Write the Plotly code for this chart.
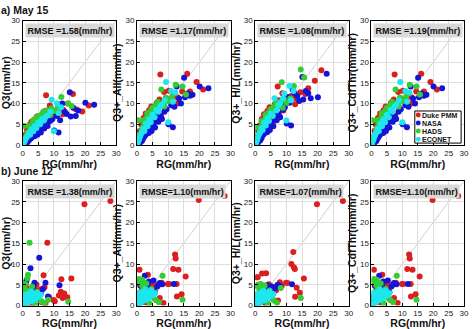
import plotly.graph_objects as go

# ---------------- data ----------------
series_names = ["Duke PMM", "NASA", "HADS", "ECONET"]
series_colors = ["#dc1e1e", "#1414d8", "#33cc33", "#1ee6ee"]

# May 15 : gauge rain rate (RG) and radar estimates
may_rg_duke = [0.1, 0.3, 0.5, 0.7, 0.9, 1.2, 1.4, 1.7, 2.1, 2.4, 2.8, 3.1, 3.5, 3.9, 4.2, 4.6, 5.0, 5.4, 5.9, 6.3,
               6.8, 7.2, 7.5, 8.1, 8.7, 9.3, 10.2, 11.4, 11.7, 12.8, 13.0, 14.5, 16.1, 17.0, 19.1, 21.2,
               2.0, 3.4, 4.8, 6.1, 7.7, 9.0]
may_q3_duke = [0.3, 0.2, 1.5, 0.8, 2.5, 1.9, 3.6, 2.2, 4.8, 3.1, 5.6, 4.0, 4.3, 6.2, 5.1, 6.9, 5.8, 4.9, 6.6, 7.5,
               6.0, 8.2, 12.0, 7.1, 9.5, 8.4, 7.2, 9.8, 8.9, 7.4, 8.5, 10.0, 12.3, 8.6, 8.1, 9.5,
               1.2, 2.6, 3.9, 4.4, 5.2, 6.3]
may_all_duke = [0.4, 0.3, 2.0, 1.1, 3.4, 2.6, 4.9, 3.0, 6.5, 4.2, 7.6, 5.4, 5.8, 8.4, 6.9, 9.3, 7.8, 6.6, 8.9, 10.1,
                8.1, 11.0, 17.0, 9.6, 12.8, 11.3, 13.1, 11.3, 12.0, 10.0, 11.5, 12.9, 17.2, 12.9, 15.2, 13.4,
                1.6, 3.5, 5.3, 5.9, 7.0, 8.5]
may_hl_duke = [0.4, 0.3, 2.0, 1.1, 3.3, 2.6, 4.7, 3.0, 6.3, 4.1, 7.4, 5.3, 5.7, 8.2, 6.7, 9.1, 7.6, 6.5, 8.7, 9.9,
               7.9, 14.1, 10.8, 9.4, 12.5, 11.1, 10.4, 11.6, 11.9, 9.8, 11.2, 12.7, 12.3, 13.7, 15.5, 18.0,
               1.6, 3.4, 5.2, 5.8, 6.9, 8.3]

may_rg_nasa = [0.3, 0.6, 0.9, 1.3, 1.6, 2.0, 2.5, 2.9, 3.3, 3.8, 4.3, 4.7, 5.3, 5.8, 6.4, 6.9, 7.5, 8.0, 8.8, 9.5,
               10.1, 11.0, 11.5, 12.0, 12.7, 13.5, 14.1, 15.1, 15.4, 16.2, 17.0, 17.8, 20.1, 22.9,
               4.0, 6.0, 8.3, 10.6]
may_q3_nasa = [0.1, 0.4, 0.3, 0.9, 0.7, 1.2, 1.5, 1.8, 2.4, 2.1, 3.2, 2.5, 3.6, 3.0, 4.4, 4.0, 5.1, 4.6, 5.8, 6.2,
               3.5, 7.0, 3.0, 6.0, 10.0, 8.0, 7.5, 12.7, 6.9, 9.0, 7.0, 8.3, 10.2, 9.7,
               2.9, 5.5, 6.8, 7.8]
may_all_nasa = [0.2, 0.6, 0.5, 1.3, 1.0, 1.7, 2.2, 2.6, 3.3, 2.9, 4.3, 3.4, 5.1, 4.2, 6.0, 5.6, 7.0, 6.3, 8.0, 8.6,
                5.0, 9.6, 4.3, 9.2, 14.1, 11.2, 10.0, 16.2, 11.5, 12.4, 11.9, 12.1, 14.1, 13.7,
                4.1, 7.5, 9.4, 10.8]
may_hl_nasa = [0.3, 0.7, 0.6, 1.4, 1.1, 1.8, 2.4, 2.8, 3.5, 3.1, 4.6, 3.6, 5.4, 4.5, 6.4, 6.0, 7.4, 6.7, 8.5, 9.1,
               5.2, 10.2, 4.7, 13.3, 12.5, 11.8, 10.6, 16.4, 11.0, 13.0, 12.5, 11.3, 11.5, 17.2,
               4.4, 8.0, 10.0, 11.6]

may_rg_hads = [0.2, 0.5, 0.8, 1.1, 1.5, 1.9, 2.3, 2.7, 3.1, 3.6, 4.0, 4.5, 5.0, 5.5, 6.0, 6.6, 7.2, 7.8, 8.5, 9.2,
               10.0, 11.2, 12.4, 14.6, 15.7, 0.3, 2.0, 3.3, 6.3, 8.8]
may_q3_hads = [0.4, 1.0, 1.6, 2.0, 2.8, 3.2, 3.9, 4.4, 5.0, 5.6, 6.1, 6.5, 7.0, 6.4, 7.3, 8.0, 7.6, 8.4, 7.9, 8.8,
               8.2, 9.0, 11.6, 10.0, 9.4, 4.6, 4.6, 5.9, 6.8, 7.2]
may_all_hads = [0.5, 1.3, 2.0, 2.6, 3.6, 4.2, 5.1, 5.6, 6.5, 7.2, 7.8, 8.3, 9.0, 8.2, 9.5, 10.4, 9.9, 13.4, 10.2, 11.4,
                10.6, 11.6, 14.5, 14.1, 12.2, 6.0, 6.0, 7.6, 8.8, 9.3]
may_hl_hads = [0.5, 1.2, 1.9, 2.5, 3.4, 4.0, 4.8, 5.4, 6.2, 6.9, 7.5, 8.0, 8.7, 7.9, 9.2, 10.1, 9.6, 10.3, 15.1, 11.0,
               10.2, 11.2, 14.2, 18.2, 16.3, 4.2, 5.8, 7.3, 8.4, 9.0]

may_rg_econet = [0.1, 0.3, 0.6, 0.9, 1.2, 1.6, 2.0, 2.4, 2.9, 3.4, 3.9, 4.4, 5.0, 5.6, 6.2, 6.8, 7.4, 8.0, 8.9, 9.3,
                 10.0, 11.0, 11.5, 12.3]
may_q3_econet = [0.2, 0.5, 0.9, 1.4, 1.8, 2.2, 2.9, 2.5, 3.8, 3.3, 4.6, 4.1, 5.4, 5.0, 6.3, 5.9, 6.8, 7.2, 8.0, 10.9,
                 3.3, 10.0, 7.7, 9.1]
may_all_econet = [0.3, 0.7, 1.2, 1.9, 2.5, 3.0, 3.9, 3.4, 5.2, 4.5, 6.2, 5.5, 7.3, 6.7, 8.5, 8.0, 9.2, 9.7, 10.8, 15.2,
                  5.5, 13.0, 10.4, 12.6]
may_hl_econet = [0.3, 0.8, 1.3, 2.0, 2.6, 3.1, 4.1, 3.6, 5.4, 4.7, 6.5, 5.8, 7.6, 7.0, 11.3, 8.3, 9.6, 10.1, 11.2, 12.4,
                 5.9, 14.2, 10.8, 13.0]

# June 12
jun_rg_duke = [0.2, 0.5, 0.8, 1.1, 1.4, 1.8, 2.2, 2.6, 3.0, 3.5, 4.0, 4.5, 5.0, 5.6, 6.2, 6.7, 7.3, 7.9, 8.5, 9.9,
               10.3, 11.6, 12.2, 12.4, 12.7, 12.8, 13.3, 14.3, 15.6, 19.8, 28.1, 0.3, 1.0, 2.0, 3.2, 4.4, 5.8, 7.0]
jun_q3_duke = [0.5, 1.8, 3.2, 2.4, 4.1, 1.1, 3.5, 2.8, 0.4, 4.9, 2.2, 3.7, 1.5, 2.9, 0.8, 7.3, 0.5, 15.1, 2.0, 1.3,
               1.0, 2.4, 3.3, 6.3, 2.6, 1.8, 2.9, 2.0, 6.5, 24.4, 25.2, 0.2, 5.2, 1.6, 2.5, 5.0, 3.9, 4.4]
jun_all_duke = [0.6, 2.0, 8.6, 2.9, 4.5, 1.6, 4.0, 3.3, 0.7, 7.4, 2.8, 4.6, 2.0, 3.6, 1.3, 5.0, 1.8, 5.5, 0.6, 5.2,
                5.2, 8.8, 12.3, 11.3, 5.2, 2.2, 8.6, 2.7, 7.0, 25.4, 26.4, 0.3, 4.8, 2.4, 3.1, 5.3, 4.7, 5.0]
jun_hl_duke = [0.7, 6.8, 6.8, 2.8, 4.6, 1.5, 7.7, 3.2, 0.6, 7.8, 2.6, 4.5, 1.9, 3.4, 1.2, 3.7, 1.2, 5.6, 4.7, 5.5,
               5.4, 10.0, 12.9, 9.2, 8.8, 2.1, 4.3, 3.1, 6.5, 24.4, 25.2, 0.3, 5.0, 2.2, 3.0, 5.1, 4.4, 4.9]

jun_rg_nasa = [0.2, 0.5, 0.9, 1.2, 1.6, 2.0, 2.5, 2.7, 3.1, 3.8, 4.2, 4.7, 5.3, 5.8, 6.5, 7.3, 8.1, 11.8, 1.4, 3.4]
jun_q3_nasa = [0.8, 1.5, 2.4, 6.0, 3.1, 1.2, 9.0, 3.8, 2.6, 5.5, 1.8, 3.2, 11.5, 2.9, 4.0, 5.5, 2.2, 4.9, 0.5, 4.4]
jun_all_nasa = [1.0, 1.8, 2.7, 4.9, 3.4, 1.6, 7.2, 4.1, 3.0, 5.8, 2.2, 3.8, 6.0, 3.2, 4.6, 5.4, 5.1, 5.2, 0.7, 4.8]
jun_hl_nasa = [0.9, 1.7, 2.5, 4.5, 3.2, 1.4, 3.6, 3.9, 2.8, 4.9, 2.0, 3.4, 4.6, 3.0, 4.3, 5.0, 4.6, 5.1, 0.6, 4.0]

jun_rg_hads = [0.1, 0.4, 0.7, 1.0, 1.3, 1.5, 1.7, 2.0, 2.2, 2.6, 3.0, 3.5, 4.0, 4.6, 5.3, 6.0, 7.0, 8.2, 14.6, 0.8, 2.8]
jun_q3_hads = [0.3, 1.9, 4.0, 2.8, 0.6, 6.6, 7.4, 3.6, 15.1, 1.4, 4.5, 2.4, 0.3, 3.3, 2.0, 1.0, 0.5, 1.4, 0.9, 5.2, 3.0]
jun_all_hads = [0.4, 2.2, 5.8, 3.2, 0.8, 5.0, 6.2, 4.4, 5.4, 1.9, 5.3, 3.0, 0.5, 4.0, 2.5, 1.4, 0.8, 7.2, 1.4, 6.4, 3.6]
jun_hl_hads = [0.3, 2.0, 4.8, 3.0, 0.7, 4.6, 5.2, 4.0, 4.9, 1.7, 4.8, 2.7, 0.4, 3.6, 2.2, 1.2, 0.6, 4.2, 1.8, 4.5, 3.2]

jun_rg_econet = [0.1, 0.3, 0.6, 0.9, 1.2, 1.5, 1.9, 2.3, 2.7, 3.1, 3.6, 4.1, 4.6, 5.2, 5.8, 0.5, 1.7, 2.9]
jun_q3_econet = [0.2, 0.9, 1.6, 0.5, 2.3, 1.2, 2.9, 1.8, 3.4, 2.2, 2.7, 1.5, 3.0, 2.1, 2.6, 2.6, 0.6, 1.0]
jun_all_econet = [0.3, 1.1, 1.9, 0.7, 2.7, 1.5, 3.3, 2.2, 3.9, 2.6, 3.1, 1.9, 3.6, 2.5, 3.0, 3.0, 0.9, 1.3]
jun_hl_econet = [0.2, 1.0, 1.8, 0.6, 2.5, 1.4, 3.1, 2.0, 3.6, 2.4, 2.9, 1.7, 3.3, 2.3, 2.8, 2.8, 0.7, 1.2]

panel_ylabels = ["Q3(mm/hr)", "Q3+_All(mm/hr)", "Q3+_H/L(mm/hr)", "Q3+_CdfThr(mm/hr)"]
may_rmse = ["RMSE =1.58(mm/hr)", "RMSE =1.17(mm/hr)", "RMSE =1.08(mm/hr)", "RMSE =1.19(mm/hr)"]
jun_rmse = ["RMSE =1.38(mm/hr)", "RMSE=1.10(mm/hr)", "RMSE=1.07(mm/hr)", "RMSE=1.10(mm/hr)"]
row_titles = ["a) May 15", "b) June 12"]
axis_ticks = [0, 5, 10, 15, 20, 25, 30]

may_x = [may_rg_duke, may_rg_nasa, may_rg_hads, may_rg_econet]
may_y = [
    [may_q3_duke, may_q3_nasa, may_q3_hads, may_q3_econet],
    [may_all_duke, may_all_nasa, may_all_hads, may_all_econet],
    [may_hl_duke, may_hl_nasa, may_hl_hads, may_hl_econet],
    [may_all_duke, may_all_nasa, may_all_hads, may_all_econet],  # CdfThr
]
jun_x = [jun_rg_duke, jun_rg_nasa, jun_rg_hads, jun_rg_econet]
jun_y = [
    [jun_q3_duke, jun_q3_nasa, jun_q3_hads, jun_q3_econet],
    [jun_all_duke, jun_all_nasa, jun_all_hads, jun_all_econet],
    [jun_hl_duke, jun_hl_nasa, jun_hl_hads, jun_hl_econet],
    [jun_all_duke, jun_all_nasa, jun_all_hads, jun_all_econet],
]

# ---------------- layout ----------------
W, H = 474, 329
FONT = "Liberation Sans, Arial, sans-serif"
col_px = [(21, 116), (137, 232), (257, 352), (375, 469)]
row_px = [(17, 145), (182, 310)]

fig = go.Figure()
layout = dict(
    width=W, height=H, margin=dict(l=0, r=0, t=0, b=0),
    paper_bgcolor="white", plot_bgcolor="white",
    font=dict(family=FONT, color="#1a1a1a"),
    showlegend=False,
    shapes=[], annotations=[],
)

tick_font = dict(size=8, color="#222", family=FONT)
title_font = dict(size=10.5, color="#111", family=FONT)

k = 0
for r, (xs, ys_all, rmses) in enumerate([(may_x, may_y, may_rmse), (jun_x, jun_y, jun_rmse)]):
    for c in range(4):
        k += 1
        xa = "x" if k == 1 else f"x{k}"
        ya = "y" if k == 1 else f"y{k}"
        x0, x1 = col_px[c]
        y0, y1 = row_px[r]
        axis_common = dict(
            range=[0, 30], tickvals=axis_ticks, showgrid=True, gridcolor="#dedede", gridwidth=1,
            zeroline=False, showline=True, linecolor="black", linewidth=1, mirror=True,
            ticks="inside", ticklen=3, tickcolor="black", tickfont=tick_font, fixedrange=True,
        )
        layout["xaxis" if k == 1 else f"xaxis{k}"] = dict(
            axis_common, domain=[x0 / W, x1 / W], anchor=ya,
            title=dict(text="<b>RG(mm/hr)</b>", font=title_font, standoff=1),
        )
        layout["yaxis" if k == 1 else f"yaxis{k}"] = dict(
            axis_common, domain=[1 - y1 / H, 1 - y0 / H], anchor=xa,
            title=dict(text=f"<b>{panel_ylabels[c]}</b>", font=title_font, standoff=1),
        )
        # 1:1 reference line
        layout["shapes"].append(dict(
            type="line", xref=xa, yref=ya, x0=0, y0=0, x1=30, y1=30,
            line=dict(color="#cfcfcf", width=1), layer="below",
        ))
        # RMSE label
        layout["annotations"].append(dict(
            xref="paper", yref="paper", x=(x0 + 2) / W, y=1 - (y0 + 3) / H,
            xanchor="left", yanchor="top", showarrow=False,
            text=f"<b>{rmses[c]}</b>", bgcolor="#d9d9d9", borderpad=1.5,
            font=dict(size=9, color="#111", family=FONT),
        ))
        for s in range(4):
            fig.add_trace(go.Scatter(
                x=xs[s], y=ys_all[c][s], mode="markers", xaxis=xa, yaxis=ya,
                name=series_names[s], hoverinfo="x+y+name",
                marker=dict(size=6, color=series_colors[s], line=dict(width=0)),
            ))

for r, txt in enumerate(row_titles):
    layout["annotations"].append(dict(
        xref="paper", yref="paper", x=-3 / W, y=1 - (-2 if r == 0 else 163) / H,
        xanchor="left", yanchor="top", showarrow=False,
        text=f"<b>{txt}</b>", font=dict(size=10.5, color="#111", family=FONT),
    ))

# compact legend box inside the May 15 CdfThr panel
lg_left, lg_right, lg_top, lg_bottom = 419, 466, 110, 143
layout["shapes"].append(dict(
    type="rect", xref="paper", yref="paper",
    x0=lg_left / W, x1=lg_right / W, y0=1 - lg_bottom / H, y1=1 - lg_top / H,
    line=dict(color="black", width=1), fillcolor="white", layer="above",
))
row_step = (lg_bottom - lg_top) / len(series_names)
for s, (nm, col) in enumerate(zip(series_names, series_colors)):
    cy = lg_top + row_step * (s + 0.5)
    cx = lg_left + 3.5
    layout["shapes"].append(dict(
        type="circle", xref="paper", yref="paper",
        x0=(cx - 2.5) / W, x1=(cx + 2.5) / W, y0=1 - (cy + 2.5) / H, y1=1 - (cy - 2.5) / H,
        fillcolor=col, line=dict(width=0), layer="above",
    ))
    layout["annotations"].append(dict(
        xref="paper", yref="paper", x=(cx + 2) / W, y=1 - cy / H,
        xanchor="left", yanchor="middle", showarrow=False,
        text=f"<b>{nm}</b>", font=dict(size=7, color="#111", family=FONT),
    ))

fig.update_layout(**layout)
fig.write_html("out.html")
